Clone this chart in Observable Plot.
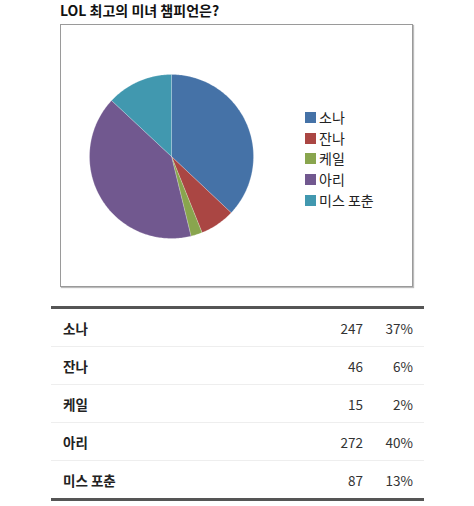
<!DOCTYPE html>
<html><head><meta charset="utf-8">
<script src="https://cdn.jsdelivr.net/npm/d3@7"></script>
<script src="https://cdn.jsdelivr.net/npm/@observablehq/plot@0.6"></script>
<style>
body{margin:0;background:#fff;font-family:"Noto Sans CJK KR","Noto Sans",sans-serif;color:#222;}
#title{position:absolute;left:60px;top:0;line-height:21px;font-size:14px;font-weight:bold;color:#111;}
#box{position:absolute;left:60px;top:24px;width:351px;height:261px;border:1px solid #9a9a9a;box-shadow:1px 1px 1px #bbb;}
#pie{position:absolute;left:0;top:0;}
#legend{position:absolute;left:244px;top:82px;font-size:14px;color:#222;}
#legend .it{height:20.7px;line-height:20.7px;display:flex;align-items:center;}
#legend .sw{width:11px;height:11px;margin-right:3px;}
#tbl{position:absolute;left:51px;top:306px;width:373px;border-collapse:collapse;border-top:3px solid #555;border-bottom:3px solid #555;font-size:13.5px;}
#tbl td{height:37px;padding:0;border-bottom:1px solid #eee;color:#333;}
#tbl tr:last-child td{border-bottom:none;}
#tbl td.l{padding-left:12px;font-weight:bold;color:#222;}
#tbl td.v{text-align:right;width:60px;}
#tbl td.p{text-align:right;width:50px;padding-right:11px;}
</style></head>
<body>
<div id="title">LOL 최고의 미녀 챔피언은?</div>
<div id="box"><div id="pie"></div><div id="legend"></div></div>
<table id="tbl"></table>
<script>
const names = ["소나", "잔나", "케일", "아리", "미스 포춘"];
const votes = [247, 46, 15, 272, 87];
const percents = ["37%", "6%", "2%", "40%", "13%"];
const colors = ["#4572A7", "#AA4643", "#89A54E", "#71588F", "#4198AF"];

const arcs = d3.pie().sort(null).value(d => d.v)(names.map((n, i) => ({n, v: votes[i]})));
const pts = [];
arcs.forEach(a => {
  const name = a.data.n;
  pts.push({name, x: 0, y: 0});
  const steps = Math.max(2, Math.ceil((a.endAngle - a.startAngle) * 180 / Math.PI));
  for (let k = 0; k <= steps; k++) {
    const t = a.startAngle + (a.endAngle - a.startAngle) * k / steps;
    pts.push({name, x: Math.sin(t), y: Math.cos(t)});
  }
  pts.push({name, x: 0, y: 0});
});

const cx = 110, cy = 131, r = 82;
const chart = Plot.plot({
  width: 351, height: 261,
  margin: 0,
  x: {domain: [-1, 1], range: [cx - r, cx + r], axis: null},
  y: {domain: [-1, 1], range: [cy + r, cy - r], axis: null},
  color: {domain: names, range: colors},
  style: {background: "transparent"},
  marks: [
    Plot.line(pts, {x: "x", y: "y", z: "name", fill: "name", stroke: "#ffffff", strokeOpacity: 0.35, strokeWidth: 0.6, curve: "linear"})
  ]
});
document.getElementById("pie").appendChild(chart);

const lg = document.getElementById("legend");
names.forEach((n, i) => {
  const d = document.createElement("div"); d.className = "it";
  d.innerHTML = `<span class="sw" style="background:${colors[i]}"></span><span>${n}</span>`;
  lg.appendChild(d);
});

const tb = document.getElementById("tbl");
names.forEach((n, i) => {
  const tr = document.createElement("tr");
  tr.innerHTML = `<td class="l">${n}</td><td class="v">${votes[i]}</td><td class="p">${percents[i]}</td>`;
  tb.appendChild(tr);
});
</script>
</body></html>
